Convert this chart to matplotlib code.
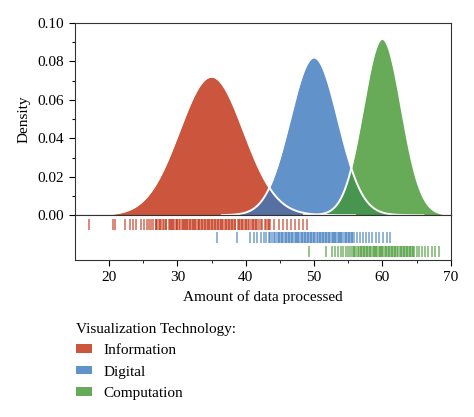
import numpy as np
import matplotlib.pyplot as plt
from matplotlib.patches import Patch

# ---------- data ----------
groups = ['Information', 'Digital', 'Computation']
colors = ['#c02a0c', '#3a77bc', '#41962f']

# fitted density shapes: centre, peak height, spread
centers = [35.0, 50.0, 60.0]
peaks = [0.072, 0.082, 0.0917]
spreads = [4.7, 3.5, 2.8]
x_starts = [15.5, 36.5, 48.5]
x_ends = [56.0, 66.0, 70.0]

rug_info = [17.0, 20.6, 20.8, 22.4, 23.0, 23.5, 24.0, 24.6, 25.1, 25.5, 25.8, 26.2,
            26.5, 26.8, 27.0, 27.3, 27.6, 27.9, 28.1, 28.4, 28.7, 29.0, 29.2, 29.5,
            29.8, 30.0, 30.3, 30.6, 30.8, 31.1, 31.4, 31.6, 31.9, 32.2, 32.4, 32.7,
            33.0, 33.2, 33.5, 33.8, 34.0, 34.3, 34.6, 34.8, 35.1, 35.4, 35.6, 35.9,
            36.2, 36.4, 36.7, 37.0, 37.3, 37.6, 37.9, 38.2, 38.5, 38.8, 39.1, 39.4,
            39.7, 40.0, 40.3, 40.7, 41.0, 41.3, 41.7, 42.0, 42.4, 42.8, 43.2, 43.6,
            44.2, 44.8, 45.5, 46.1, 46.6, 47.2, 47.8, 48.4, 48.9,
            26.9, 27.5, 28.3, 28.9, 29.4, 29.9, 30.4, 30.9, 31.3, 31.8, 32.3, 32.6,
            33.1, 33.6, 34.1, 34.5, 35.0, 35.5, 36.0, 36.5, 37.1, 37.5, 38.0, 38.4,
            39.0, 39.5, 40.1, 40.5, 41.1, 41.5, 42.2, 42.9, 43.4]
rug_digital = [35.8, 38.7, 40.6, 41.2, 41.7, 42.2, 42.6, 43.0, 43.4, 43.8, 44.1, 44.5,
               44.8, 45.1, 45.4, 45.7, 46.0, 46.3, 46.6, 46.9, 47.2, 47.5, 47.8, 48.1,
               48.4, 48.7, 49.0, 49.3, 49.6, 49.9, 50.2, 50.5, 50.8, 51.1, 51.4, 51.7,
               52.0, 52.3, 52.6, 52.9, 53.2, 53.5, 53.8, 54.1, 54.4, 54.7, 55.0, 55.3,
               55.6, 55.9, 56.3, 56.7, 57.1, 57.6, 58.0, 58.5, 59.0, 59.5, 60.1, 60.7, 61.1,
               43.6, 44.3, 44.9, 45.3, 45.9, 46.4, 46.8, 47.3, 47.7, 48.2, 48.6, 49.1,
               49.5, 50.0, 50.4, 50.9, 51.3, 51.8, 52.2, 52.7, 53.1, 53.6, 54.0, 54.6,
               55.1, 55.5]
rug_comp = [49.3, 51.7, 52.6, 53.1, 53.5, 53.9, 54.3, 54.7, 55.0, 55.3, 55.6, 55.9,
            56.2, 56.5, 56.8, 57.1, 57.4, 57.7, 58.0, 58.3, 58.6, 58.9, 59.2, 59.5,
            59.8, 60.1, 60.4, 60.7, 61.0, 61.3, 61.6, 61.9, 62.2, 62.5, 62.8, 63.1,
            63.4, 63.7, 64.0, 64.3, 64.6, 65.0, 65.4, 65.8, 66.2, 66.7, 67.2, 67.7, 68.3,
            55.8, 56.4, 56.9, 57.3, 57.8, 58.2, 58.7, 59.1, 59.6, 60.0, 60.5, 60.9,
            61.4, 61.8, 62.3, 62.7, 63.2, 63.6, 64.1, 64.5]
rugs = [rug_info, rug_digital, rug_comp]

plt.rcParams['font.family'] = ['Liberation Serif', 'DejaVu Serif']
plt.rcParams['font.size'] = 11

fig = plt.figure(figsize=(4.74, 4.17), dpi=100)
ax = fig.add_axes([0.158, 0.484, 0.793, 0.461])
ax_rug = fig.add_axes([0.158, 0.376, 0.793, 0.108], sharex=ax)

# density areas
for c, mu, pk, sd, x0, x1 in zip(colors, centers, peaks, spreads, x_starts, x_ends):
    xs = np.linspace(x0, x1, 400)
    ys = pk * np.exp(-0.5 * ((xs - mu) / sd) ** 2)
    ax.fill_between(xs, 0, ys, color=c, alpha=0.8, lw=0)
    ax.plot(xs, ys, color='white', lw=1.4)

ax.set_xlim(15, 70)
ax.set_ylim(0, 0.10)
ax.set_yticks(np.arange(0, 0.101, 0.02))
ax.set_yticks(np.arange(0.01, 0.1, 0.02), minor=True)
ax.set_ylabel('Density', labelpad=5)
ax.tick_params(axis='x', bottom=False, labelbottom=False)
ax.tick_params(axis='y', direction='out', length=4, width=0.8)
ax.tick_params(axis='y', which='minor', length=2.5, width=0.8)
for s in ax.spines.values():
    s.set_color('#333333')

# rug rows
rows = [0.21, 0.5, 0.8]
for c, vals, r in zip(colors, rugs, rows):
    ax_rug.vlines(vals, r - 0.12, r + 0.12, color=c, alpha=0.6, lw=1.3)
ax_rug.set_ylim(1, 0)
ax_rug.set_yticks([])
ax_rug.set_xticks(range(20, 71, 10))
ax_rug.set_xticks(range(25, 70, 10), minor=True)
ax_rug.tick_params(axis='x', direction='out', length=4, width=0.8, pad=4)
ax_rug.tick_params(axis='x', which='minor', length=2.5)
ax_rug.set_xlabel('Amount of data processed', labelpad=4)
for s in ax_rug.spines.values():
    s.set_color('#333333')

handles = [Patch(facecolor=c, alpha=0.8, edgecolor='none') for c in colors]
leg = fig.legend(handles, groups, title='Visualization Technology:',
                 loc='upper left', bbox_to_anchor=(0.142, 0.248), frameon=False,
                 alignment='left', handlelength=1.0, handleheight=0.5,
                 labelspacing=0.55, handletextpad=0.75, borderpad=0.1)
leg.get_title().set_fontsize(11)

fig.savefig('out.png', dpi=100)
